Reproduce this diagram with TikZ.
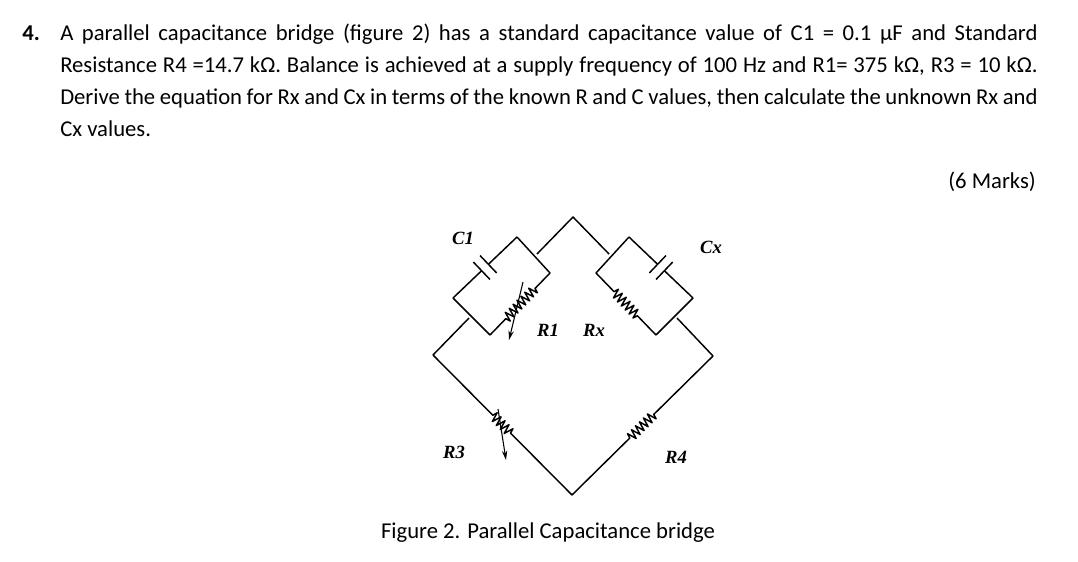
\documentclass[tikz,border=0pt]{standalone}
\usepackage{fontspec}
\setmainfont{Carlito}
\newfontfamily\tms{Liberation Serif}
\usetikzlibrary{calc,decorations.pathmorphing,arrows.meta}
\begin{document}
\begin{tikzpicture}[x=0.75pt,y=-0.75pt,
  wire/.style={line width=1.1pt,line join=round},
  lbl/.style={font=\tms\bfseries\itshape\fontsize{14}{16}\selectfont,inner sep=0},
  para/.style={anchor=base west,inner sep=0,text width=733pt,align=justify,font=\fontsize{17}{24}\selectfont},
  zz/.style={decorate,decoration={zigzag,segment length=4.2pt,amplitude=3.6pt}}]
\useasboundingbox (0,0) rectangle (1078,561);
\newcommand\mkres[3]{\draw[wire] (#1) -- ($(#1)!#2!(#3)$) decorate[zz]{-- ($(#1)!1-#2!(#3)$)} -- (#3);}
\newcommand\mkcap[2]{%
  \coordinate (ca) at ($(#1)!0.5!(#2)$);
  \coordinate (p1) at ($(ca)!3.5pt!(#1)$);
  \coordinate (p2) at ($(ca)!3.5pt!(#2)$);
  \draw[wire] (#1) -- (p1) (p2) -- (#2);
  \draw[wire] ($(p1)!9pt!90:(#1)$) -- ($(p1)!9pt!-90:(#1)$);
  \draw[wire] ($(p2)!9pt!90:(#2)$) -- ($(p2)!9pt!-90:(#2)$);}
% text
\node[anchor=base west,inner sep=0,font=\bfseries\fontsize{17}{24}\selectfont] (num) at (22,40) {4.};
\node[para] (l1) at (60,40) {A parallel capacitance bridge (figure 2) has a standard capacitance value of C1 = 0.1 µF and Standard\parfillskip=0pt\par};
\node[para] (l2) at (60,72) {Resistance R4 =14.7 kΩ. Balance is achieved at a supply frequency of 100 Hz and R1= 375 kΩ, R3 = 10 kΩ.\parfillskip=0pt\par};
\node[para] (l3) at (60,104) {Derive the equation for Rx and Cx in terms of the known R and C values, then calculate the unknown Rx and\parfillskip=0pt\par};
\node[para] (l4) at (60,136) {Cx values.};
\node[anchor=base east,inner sep=0,font=\fontsize{17}{24}\selectfont] (marks) at (1036,188) {(6 Marks)};
\node[anchor=base,inner sep=0,font=\fontsize{17}{24}\selectfont] (cap) at (548,538) {Figure 2. Parallel Capacitance bridge};
% bridge nodes
\coordinate (T) at (573,217);
\coordinate (L) at (433,355);
\coordinate (R) at (713,356);
\coordinate (B) at (572,495);
% left box
\coordinate (a1) at (453,298); \coordinate (a2) at (517,237);
\coordinate (a3) at (550,273); \coordinate (a4) at (490,335);
\coordinate (ain) at (469,318); \coordinate (aout) at (537,254);
% right box
\coordinate (b1) at (596,273); \coordinate (b2) at (629,237);
\coordinate (b3) at (693,298); \coordinate (b4) at (656,335);
\coordinate (bin) at (609,254); \coordinate (bout) at (677,318);
\draw[wire] (L) -- (ain) (aout) -- (T) -- (bin) (bout) -- (R);
\draw[wire] (a4) -- (a1) (a2) -- (a3);
\mkcap{a1}{a2}
\mkres{a3}{0.25}{a4}
\draw[wire] (b2) -- (b1);
\draw[wire] (b4) -- (b3);
\mkcap{b2}{b3}
\mkres{b1}{0.3}{b4}
\mkres{L}{0.43}{B}
\mkres{B}{0.41}{R}
% variable arrows
\draw[line width=0.8pt,-{Stealth[length=7pt,width=4pt]}] (523,282) -- (509,340);
\draw[line width=0.8pt,-{Stealth[length=7pt,width=4pt]}] (498,409) -- (506,460);
% labels
\node[lbl] (tc1) at (463,238) {C1};
\node[lbl] (tcx) at (711,247) {Cx};
\node[lbl] (tr1) at (548,330) {R1};
\node[lbl] (trx) at (594,330) {Rx};
\node[lbl] (tr3) at (454,452) {R3};
\node[lbl] (tr4) at (676,457) {R4};
\end{tikzpicture}
\end{document}
